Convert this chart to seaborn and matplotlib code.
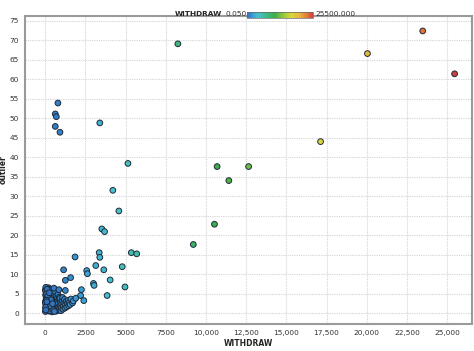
import numpy as np
import pandas as pd
import seaborn as sns
import matplotlib.pyplot as plt
from matplotlib.colors import LinearSegmentedColormap, Normalize
from matplotlib.ticker import FuncFormatter

# scattered points (WITHDRAW, outlier)
withdraw_far = [25460, 23480, 20040, 17125, 8250, 10690, 12650, 11420, 10525, 9210,
                5145, 3395, 790, 625, 690, 625, 918, 4206, 4580, 3520, 3690,
                1856, 3356, 3395, 5356, 5690, 1144, 1580, 1250, 2580, 2625, 3144,
                3644, 4790, 4040, 3000, 3040, 4960, 3850, 2250, 2200, 1900, 2400,
                540, 850, 1250]
outlier_far = [61.4, 72.4, 66.6, 44.0, 69.1, 37.6, 37.6, 34.0, 22.8, 17.6,
               38.4, 48.8, 53.9, 51.1, 50.4, 47.9, 46.4, 31.5, 26.2, 21.6, 20.9,
               14.4, 15.5, 14.3, 15.5, 15.2, 11.1, 9.1, 8.4, 10.9, 10.1, 12.2,
               11.1, 11.9, 8.5, 7.6, 7.1, 6.7, 4.5, 6.0, 4.5, 3.8, 3.2,
               6.4, 6.0, 5.8]

# dense cluster near the origin
withdraw_low = [10, 30, 50, 15, 60, 25, 45, 80, 120, 140, 110, 150, 130, 170, 160, 200,
                220, 240, 260, 210, 280, 250, 230, 300, 330, 350, 320, 370, 340, 390,
                360, 420, 440, 410, 460, 430, 480, 450, 520, 540, 510, 560, 530, 580,
                600, 620, 640, 610, 660, 680, 700, 720, 750, 730, 770, 790, 820, 840,
                810, 860, 880, 900, 930, 950, 920, 980, 1000, 1020, 1050, 1080, 1100,
                1130, 1160, 1200, 1230, 1260, 1300, 1340, 1380, 1420, 1460, 1500, 1550,
                1600, 1700, 1750, 75, 190, 290, 385, 470, 570, 95, 180, 275, 5, 8, 35,
                115, 65, 155, 255, 355, 455, 20, 40, 70, 100]
outlier_low = [0.4, 1.2, 2.1, 3.0, 3.8, 4.6, 5.4, 6.3, 0.8, 1.7, 2.6, 3.4, 4.2, 5.0, 5.9, 6.5,
               0.5, 1.4, 2.3, 3.1, 3.9, 4.8, 5.6, 6.1, 0.9, 1.9, 2.8, 3.6, 4.4, 5.2,
               6.0, 0.3, 1.1, 2.0, 2.9, 3.7, 4.5, 5.3, 0.7, 1.6, 2.5, 3.3, 4.1, 4.9,
               5.6, 1.0, 1.9, 2.7, 3.5, 4.3, 0.5, 1.4, 2.2, 3.0, 3.9, 4.8, 0.8, 1.7,
               2.6, 3.4, 4.1, 1.2, 2.0, 2.9, 3.8, 0.6, 1.5, 2.4, 3.2, 4.0, 1.0,
               1.9, 2.7, 3.5, 1.3, 2.2, 3.0, 1.6, 2.5, 3.3, 1.9, 2.8, 2.2,
               3.6, 2.6, 3.1, 0.9, 1.0, 0.6, 1.5, 0.9, 0.4, 1.6, 2.2, 1.8, 5.9, 2.6, 6.6,
               6.1, 4.9, 4.4, 5.2, 3.4, 2.4, 1.5, 0.8, 3.3, 2.9]

df = pd.DataFrame({
    "WITHDRAW": withdraw_low + withdraw_far,
    "outlier": outlier_low + outlier_far,
})

cmap = LinearSegmentedColormap.from_list("rm", [
    (0.00, "#2f6fbd"), (0.08, "#3a9ad4"), (0.16, "#48c0cc"), (0.30, "#3dba86"),
    (0.42, "#3cae48"), (0.55, "#94c83c"), (0.67, "#dcd63a"), (0.80, "#e6b440"),
    (0.91, "#e27a3a"), (1.00, "#d43c3c")])
vmin, vmax = 0.05, 25500

sns.set_style("whitegrid")
fig = plt.figure(figsize=(4.74, 3.51), dpi=100)
ax = fig.add_axes([0.053, 0.077, 0.943, 0.877])
sns.scatterplot(data=df, x="WITHDRAW", y="outlier", hue="WITHDRAW", palette=cmap,
                hue_norm=(vmin, vmax), legend=False, s=17, edgecolor="#1e2a38",
                linewidth=0.7, ax=ax)

ax.set_xlim(-1250, 26550)
ax.set_ylim(-2.8, 76.2)
ax.set_xticks(range(0, 25001, 2500))
ax.set_yticks(range(0, 76, 5))
ax.xaxis.set_major_formatter(FuncFormatter(lambda v, p: f"{int(v):,}" if v >= 10000 else f"{int(v)}"))
ax.grid(True, color="#d4d4d4", linestyle=(0, (1, 1)), linewidth=0.8)
for s in ax.spines.values():
    s.set_color("#9a9a9a")
    s.set_linewidth(1.5)
ax.tick_params(axis="both", labelsize=5.3, colors="#333333", length=3, width=0.6, pad=1.5)
ax.tick_params(axis="both", color="#999999")
ax.set_xlabel("WITHDRAW", fontsize=5.5, fontweight="bold", labelpad=2)
ax.set_ylabel("outlier", fontsize=5.5, fontweight="bold", labelpad=1)

# colour bar at top
cax = fig.add_axes([247 / 474, 1 - 17.5 / 351, 66 / 474, 6 / 351])
cb = fig.colorbar(plt.cm.ScalarMappable(norm=Normalize(vmin, vmax), cmap=cmap),
                  cax=cax, orientation="horizontal")
cb.set_ticks([])
cb.outline.set_edgecolor("#666666")
cb.outline.set_linewidth(0.5)
fig.text(226 / 474, 1 - 14.5 / 351, "0.050", fontsize=5.3, ha="left", va="center", color="#333333")
fig.text(222 / 474, 1 - 14.5 / 351, "WITHDRAW", fontsize=5.3, fontweight="bold", ha="right", va="center")
fig.text(315 / 474, 1 - 14.5 / 351, "25500.000", fontsize=5.3, ha="left", va="center", color="#333333")

fig.savefig("out.png", dpi=100)
